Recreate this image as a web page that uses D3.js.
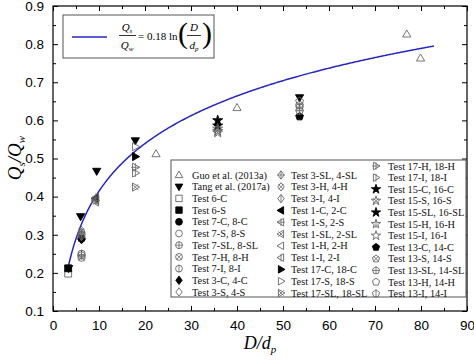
<!DOCTYPE html>
<html>
<head>
<meta charset="utf-8">
<script src="https://cdn.jsdelivr.net/npm/d3@7"></script>
<style>
  body { margin: 0; background: #fff; }
  svg { display: block; font-family: "Liberation Serif", "Times New Roman", serif; }
</style>
</head>
<body>
<div id="chart"></div>
<script>
// ---- data ----
const xTicks = [0, 10, 20, 30, 40, 50, 60, 70, 80, 90];
const yTicks = [0.1, 0.2, 0.3, 0.4, 0.5, 0.6, 0.7, 0.8, 0.9];
const fitCoef = 0.18;          // Qs/Qw = 0.18 ln(D/dp)
const fitRange = [3.2, 82.8];

const seriesLabels = [
  "Guo et al. (2013a)", "Tang et al. (2017a)", "Test 6-C", "Test 6-S",
  "Test 7-C, 8-C", "Test 7-S, 8-S", "Test 7-SL, 8-SL", "Test 7-H, 8-H", "Test 7-I, 8-I",
  "Test 3-C, 4-C", "Test 3-S, 4-S",
  "Test 3-SL, 4-SL", "Test 3-H, 4-H", "Test 3-I, 4-I",
  "Test 1-C, 2-C", "Test 1-S, 2-S", "Test 1-SL, 2-SL", "Test 1-H, 2-H", "Test 1-I, 2-I",
  "Test 17-C, 18-C", "Test 17-S, 18-S", "Test 17-SL, 18-SL",
  "Test 17-H, 18-H", "Test 17-I, 18-I",
  "Test 15-C, 16-C", "Test 15-S, 16-S", "Test 15-SL, 16-SL", "Test 15-H, 16-H", "Test 15-I, 16-I",
  "Test 13-C, 14-C", "Test 13-S, 14-S", "Test 13-SL, 14-SL", "Test 13-H, 14-H", "Test 13-I, 14-I"
];
const seriesShapes = [
  "up", "down", "square", "square",
  "circle", "circle", "circle", "circle", "circle",
  "diamond", "diamond", "diamond", "diamond", "diamond",
  "left", "left", "left", "left", "left",
  "right", "right", "right", "right", "right",
  "star", "star", "star", "star", "star",
  "penta", "penta", "penta", "penta", "penta"
];
const seriesStyles = [
  "open", "fill", "open", "fill",
  "fill", "open", "plus", "cross", "vline",
  "fill", "open", "plus", "cross", "vline",
  "fill", "plus", "cross", "open", "vline",
  "fill", "open", "cross", "plus", "vline",
  "fill", "cross", "fill", "vline", "open",
  "fill", "cross", "plus", "open", "vline"
];

// one entry per plotted point: series index, D/dp, Qs/Qw
const pointSeries = [
  0, 0, 0, 0,
  1, 1, 1, 1, 1,
  2, 3,
  4, 5, 6, 7, 8,
  9, 10, 11, 12, 13,
  14, 15, 16, 17, 18,
  19, 20, 21, 22, 23,
  24, 25, 26, 27, 28,
  29, 30, 31, 32, 33
];
const pointX = [
  22.4, 40.0, 76.9, 79.9,
  6.0, 9.5, 17.9, 53.6, 3.4,
  3.3, 3.3,
  6.2, 6.2, 6.2, 6.2, 6.2,
  6.2, 6.2, 6.2, 6.2, 6.2,
  9.3, 9.3, 9.3, 9.3, 9.3,
  17.9, 17.9, 17.9, 17.9, 17.9,
  35.8, 35.8, 35.8, 35.8, 35.8,
  53.6, 53.6, 53.6, 53.6, 53.6
];
const pointY = [
  0.512, 0.633, 0.826, 0.763,
  0.348, 0.467, 0.547, 0.660, 0.212,
  0.198, 0.212,
  0.290, 0.300, 0.246, 0.240, 0.250,
  0.288, 0.300, 0.305, 0.310, 0.296,
  0.395, 0.390, 0.386, 0.393, 0.398,
  0.505, 0.531, 0.425, 0.477, 0.462,
  0.600, 0.568, 0.586, 0.578, 0.572,
  0.610, 0.640, 0.625, 0.650, 0.635
];

// ---- layout ----
const width = 474, height = 363;
const margin = { top: 6, right: 7, bottom: 52, left: 53 };
const plotW = width - margin.left - margin.right;
const plotH = height - margin.top - margin.bottom;

const svg = d3.select("#chart").append("svg")
  .attr("width", width)
  .attr("height", height);

const g = svg.append("g")
  .attr("transform", `translate(${margin.left},${margin.top})`);

const x = d3.scaleLinear().domain([0, 90]).range([0, plotW]);
const y = d3.scaleLinear().domain([0.1, 0.9]).range([plotH, 0]);

const xMinor = d3.range(5, 90, 10);
const yMinor = d3.range(0.15, 0.9, 0.1);

// axes, ticks pointing inward
function styleAxis(sel) {
  sel.select(".domain").remove();
  sel.selectAll("line").attr("stroke", "#000");
  sel.selectAll("text").attr("fill", "#000").attr("font-size", 13.5);
}

g.append("g").attr("transform", `translate(0,${plotH})`)
  .call(d3.axisBottom(x).tickValues(xTicks).tickSizeInner(-5).tickSizeOuter(0).tickPadding(9))
  .call(styleAxis);
g.append("g").attr("transform", `translate(0,${plotH})`)
  .call(d3.axisBottom(x).tickValues(xMinor).tickSize(-3).tickFormat(""))
  .call(styleAxis);
g.append("g")
  .call(d3.axisTop(x).tickValues(xTicks).tickSize(-5).tickFormat(""))
  .call(styleAxis);
g.append("g")
  .call(d3.axisTop(x).tickValues(xMinor).tickSize(-3).tickFormat(""))
  .call(styleAxis);

g.append("g")
  .call(d3.axisLeft(y).tickValues(yTicks).tickSizeInner(-5).tickSizeOuter(0).tickPadding(9).tickFormat(d3.format(".1f")))
  .call(styleAxis);
g.append("g")
  .call(d3.axisLeft(y).tickValues(yMinor).tickSize(-3).tickFormat(""))
  .call(styleAxis);
g.append("g").attr("transform", `translate(${plotW},0)`)
  .call(d3.axisRight(y).tickValues(yTicks).tickSize(-5).tickFormat(""))
  .call(styleAxis);
g.append("g").attr("transform", `translate(${plotW},0)`)
  .call(d3.axisRight(y).tickValues(yMinor).tickSize(-3).tickFormat(""))
  .call(styleAxis);

g.append("rect")
  .attr("width", plotW).attr("height", plotH)
  .attr("fill", "none").attr("stroke", "#000").attr("stroke-width", 1.2);

// ---- markers ----
function shapePath(shape, r) {
  const poly = pts => "M" + pts.map(p => p.join(",")).join("L") + "Z";
  const rot = (pts, a) => pts.map(([px, py]) => [
    px * Math.cos(a) - py * Math.sin(a), px * Math.sin(a) + py * Math.cos(a)]);
  const tri = [[0, -r], [r * 0.95, r * 0.65], [-r * 0.95, r * 0.65]];
  switch (shape) {
    case "up": return poly(tri);
    case "down": return poly(rot(tri, Math.PI));
    case "left": return poly(rot(tri, -Math.PI / 2));
    case "right": return poly(rot(tri, Math.PI / 2));
    case "square": { const s = r * 0.8; return poly([[-s, -s], [s, -s], [s, s], [-s, s]]); }
    case "diamond": return poly([[0, -r * 1.05], [r * 0.8, 0], [0, r * 1.05], [-r * 0.8, 0]]);
    case "circle": return d3.symbol(d3.symbolCircle, Math.PI * (r * 0.85) ** 2)();
    case "star": return d3.symbol(d3.symbolStar, r * r * 1.7)();
    case "penta": return poly(d3.range(5).map(i => {
      const a = -Math.PI / 2 + i * 2 * Math.PI / 5;
      return [r * 0.95 * Math.cos(a), r * 0.95 * Math.sin(a)];
    }));
  }
}

function drawMarker(sel, shape, style, r) {
  const filled = style === "fill";
  const col = filled ? "#000" : "#666";
  sel.append("path")
    .attr("d", shapePath(shape, r))
    .attr("fill", filled ? "#000" : "none")
    .attr("stroke", col)
    .attr("stroke-width", 0.9);
  const k = r * 0.95;
  let segs = [];
  if (style === "plus") segs = [[-k, 0, k, 0], [0, -k, 0, k]];
  if (style === "cross") segs = [[-k * 0.7, -k * 0.7, k * 0.7, k * 0.7], [-k * 0.7, k * 0.7, k * 0.7, -k * 0.7]];
  if (style === "vline") segs = [[0, -k, 0, k]];
  segs.forEach(s => sel.append("line")
    .attr("x1", s[0]).attr("y1", s[1]).attr("x2", s[2]).attr("y2", s[3])
    .attr("stroke", col).attr("stroke-width", 0.8));
}

// fit curve
const fitX = d3.range(fitRange[0], fitRange[1], 0.2).concat([fitRange[1]]);
g.append("path")
  .datum(fitX)
  .attr("fill", "none")
  .attr("stroke", "#2626c8")
  .attr("stroke-width", 1.5)
  .attr("d", d3.line().x(d => x(d)).y(d => y(fitCoef * Math.log(d))));

// data points
pointSeries.forEach((s, i) => {
  const m = g.append("g").attr("transform", `translate(${x(pointX[i])},${y(pointY[i])})`);
  drawMarker(m, seriesShapes[s], seriesStyles[s], 4.3);
});

// ---- axis titles ----
const yt = svg.append("text")
  .attr("transform", "translate(21,158) rotate(-90)")
  .attr("text-anchor", "middle")
  .attr("font-size", 19).attr("font-style", "italic");
yt.append("tspan").text("Q");
yt.append("tspan").attr("font-size", 11).attr("dy", 4).text("s");
yt.append("tspan").attr("dy", -4).text("/Q");
yt.append("tspan").attr("font-size", 11).attr("dy", 4).text("w");

const xt = svg.append("text")
  .attr("x", 260).attr("y", 349)
  .attr("text-anchor", "middle")
  .attr("font-size", 18).attr("font-style", "italic");
xt.append("tspan").text("D/d");
xt.append("tspan").attr("font-size", 11).attr("dy", 4).text("p");

// ---- equation legend ----
const eq = svg.append("g");
eq.append("rect").attr("x", 63).attr("y", 15).attr("width", 151).attr("height", 43)
  .attr("fill", "#fff").attr("stroke", "#555").attr("stroke-width", 1);
eq.append("line").attr("x1", 72).attr("x2", 107).attr("y1", 37).attr("y2", 37)
  .attr("stroke", "#2626c8").attr("stroke-width", 1.5);

function frac(gx, cx, top, topSub, bot, botSub) {
  const t = gx.append("text").attr("x", cx).attr("y", 31).attr("text-anchor", "middle")
    .attr("font-size", 11).attr("font-style", "italic");
  t.append("tspan").text(top);
  t.append("tspan").attr("font-size", 7).attr("dy", 2).text(topSub);
  const b = gx.append("text").attr("x", cx).attr("y", 49).attr("text-anchor", "middle")
    .attr("font-size", 11).attr("font-style", "italic");
  b.append("tspan").text(bot);
  b.append("tspan").attr("font-size", 7).attr("dy", 2).text(botSub);
}
frac(eq, 127, "Q", "s", "Q", "w");
eq.append("line").attr("x1", 119).attr("x2", 136).attr("y1", 35.5).attr("y2", 35.5).attr("stroke", "#000").attr("stroke-width", 0.8);
eq.append("text").attr("x", 138).attr("y", 39.5).attr("font-size", 11).text("= 0.18 ln");
eq.append("text").attr("x", 178).attr("y", 43).attr("font-size", 30).text("(");
frac(eq, 194, "D", "", "d", "p");
eq.append("line").attr("x1", 187).attr("x2", 201).attr("y1", 35.5).attr("y2", 35.5).attr("stroke", "#000").attr("stroke-width", 0.8);
eq.append("text").attr("x", 202).attr("y", 43).attr("font-size", 30).text(")");

// ---- symbol legend ----
const lg = svg.append("g");
lg.append("rect").attr("x", 171).attr("y", 160).attr("width", 295).attr("height", 137)
  .attr("fill", "#fff").attr("stroke", "#555").attr("stroke-width", 1);

const legendCols = [
  { from: 0, to: 11, sx: 179, tx: 192, y0: 175, dy: 11.7 },
  { from: 11, to: 22, sx: 281, tx: 291, y0: 175, dy: 11.8 },
  { from: 22, to: 34, sx: 376, tx: 388, y0: 166, dy: 11.6 }
];
legendCols.forEach(c => {
  d3.range(c.from, c.to).forEach((s, j) => {
    const yy = c.y0 + j * c.dy;
    const m = lg.append("g").attr("transform", `translate(${c.sx},${yy})`);
    drawMarker(m, seriesShapes[s], seriesStyles[s], 4.0);
    lg.append("text").attr("x", c.tx).attr("y", yy + 3.6)
      .attr("font-size", 10.3).attr("fill", "#111").text(seriesLabels[s]);
  });
});
</script>
</body>
</html>
